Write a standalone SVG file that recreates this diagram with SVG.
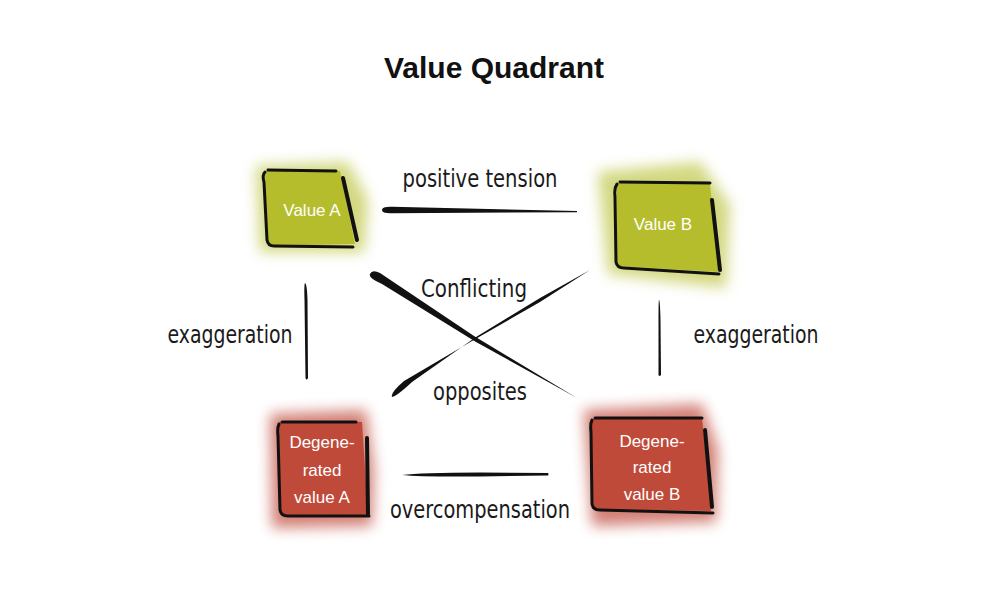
<svg xmlns="http://www.w3.org/2000/svg" width="1000" height="600" viewBox="0 0 1000 600">
<defs>
<style>
.lbl{font-family:"Liberation Sans Narrow","DejaVu Sans Condensed","Liberation Sans",sans-serif;font-size:24px;fill:#1a1a1a;text-anchor:middle}
.title{font-family:"Liberation Sans Narrow","Liberation Sans",sans-serif;font-size:30px;font-weight:bold;fill:#111;text-anchor:middle}
.ntxt{font-family:"Liberation Sans Narrow","Liberation Sans",sans-serif;font-size:17px;fill:#fff;text-anchor:middle}
.ink{fill:none;stroke:#111;stroke-linecap:round;stroke-linejoin:round}
.stroke{fill:#111}
.green{fill:#b5bd2c}
.red{fill:#c04a3a}
</style>
<filter id="blur" x="-40%" y="-40%" width="180%" height="180%"><feGaussianBlur stdDeviation="7"/></filter>
</defs>
<rect width="1000" height="600" fill="#fff"/>
<text class="title" x="494" y="78" textLength="220" lengthAdjust="spacingAndGlyphs">Value Quadrant</text>

<g id="valueA">
<path class="green" filter="url(#blur)" opacity="0.6" d="M256,166 L348,162 L368,200 L364,252 L260,252 Z"/>
<path class="green" d="M265,171 L340,171 L355,244 L268,246 Z"/>
<path class="ink" stroke-width="3" d="M268,170 L336,171 M265,172 Q262,175 264,182 L267,240 Q268,246 274,246 L353,247"/>
<path class="ink" stroke-width="4" d="M343,178 L357,240"/>
<text class="ntxt" x="312" y="216">Value A</text>
</g>

<g id="valueB">
<path class="green" filter="url(#blur)" opacity="0.6" d="M598,172 L700,162 L730,205 L726,288 L608,274 Z"/>
<path class="green" d="M617,183 L710,184 L719,272 L617,266 Z"/>
<path class="ink" stroke-width="3" d="M620,182 L710,183 M617,184 Q614,188 615,196 L616,262 Q617,268 624,268 L719,274"/>
<path class="ink" stroke-width="4" d="M712,200 L720,270"/>
<text class="ntxt" x="663" y="230">Value B</text>
</g>

<g id="degA">
<path class="red" filter="url(#blur)" opacity="0.7" d="M270,414 L366,410 L374,470 L372,526 L272,528 Z"/>
<path class="red" d="M279,422 L362,422 L368,515 L280,515 Z"/>
<path class="ink" stroke-width="3" d="M282,422 L356,422 M279,424 Q277,428 278,436 L280,510 Q281,516 288,516 L369,516"/>
<path class="ink" stroke-width="4" d="M367,438 L368,514"/>
<text class="ntxt" x="322" y="448">Degene-</text>
<text class="ntxt" x="322" y="476">rated</text>
<text class="ntxt" x="322" y="503">value A</text>
</g>

<g id="degB">
<path class="red" filter="url(#blur)" opacity="0.7" d="M584,410 L702,404 L718,450 L716,522 L592,526 Z"/>
<path class="red" d="M592,419 L702,418 L711,511 L592,509 Z"/>
<path class="ink" stroke-width="3" d="M595,418 L702,418 M592,420 Q590,424 591,432 L592,504 Q593,510 600,510 L713,513"/>
<path class="ink" stroke-width="4" d="M705,430 L712,507"/>
<text class="ntxt" x="652" y="447">Degene-</text>
<text class="ntxt" x="652" y="473">rated</text>
<text class="ntxt" x="652" y="500">value B</text>
</g>

<g id="connectors">
<path class="stroke" d="M382,210 Q382,206.5 392,206.8 L577,211 L577,212.2 L392,213.2 Q382,213.5 382,210 Z"/>
<path class="stroke" d="M305,283 Q307,284 307.5,300 L308,378 Q306.5,381 305.5,378 L304.5,300 Q304,284 305,283 Z"/>
<path class="stroke" d="M659,300 Q660,300 660.5,320 L661,375 Q659.5,377 658.5,375 L658.5,320 Q658.5,300 659,300 Z"/>
<path class="stroke" d="M402,475 Q420,472.5 480,472.5 L548,473 Q549,474.5 548,475.5 L480,476.5 Q420,477 402,475 Z"/>
<path class="stroke" d="M370,274 Q372,269 380,273 L474,336 L577,398 L476,342 L382,284 Q368,278 370,274 Z"/>
<path class="stroke" d="M590,270 L540,298 L476,337 L412,382 Q397,396 392,397 Q390,393 404,381 L472,341 L540,302 Z"/>
</g>

<g id="labels">
<text class="lbl" x="480" y="187" textLength="155" lengthAdjust="spacingAndGlyphs">positive tension</text>
<text class="lbl" x="230" y="343" textLength="125" lengthAdjust="spacingAndGlyphs">exaggeration</text>
<text class="lbl" x="756" y="343" textLength="125" lengthAdjust="spacingAndGlyphs">exaggeration</text>
<text class="lbl" x="474" y="297" textLength="106" lengthAdjust="spacingAndGlyphs">Conflicting</text>
<text class="lbl" x="480" y="400" textLength="94" lengthAdjust="spacingAndGlyphs">opposites</text>
<text class="lbl" x="480" y="518" textLength="180" lengthAdjust="spacingAndGlyphs">overcompensation</text>
</g>
</svg>
